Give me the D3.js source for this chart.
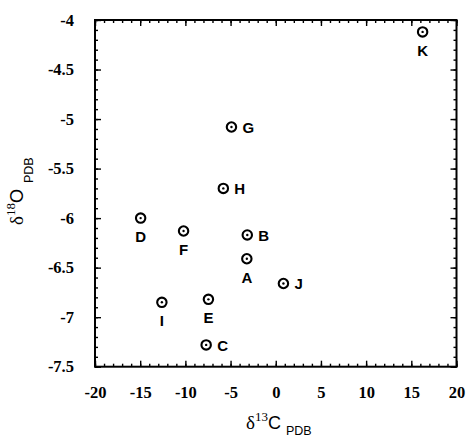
<!DOCTYPE html>
<html>
<head>
<meta charset="utf-8">
<script src="https://cdn.jsdelivr.net/npm/d3@7/dist/d3.min.js"></script>
<style>
body { margin: 0; background: #fff; }
svg { display: block; }
</style>
</head>
<body>
<svg id="chart" width="474" height="443"></svg>
<script>
// ---- data ----
const sampleNames = ["A", "B", "C", "D", "E", "F", "G", "H", "I", "J", "K"];
const d13C = [-3.2, -3.15, -7.7, -14.95, -7.45, -10.2, -4.9, -5.8, -12.6, 0.85, 16.25];
const d18O = [-6.41, -6.17, -7.28, -6.0, -6.82, -6.13, -5.08, -5.70, -6.85, -6.66, -4.12];
const labelSide = ["below", "right", "right", "below", "below", "below", "right", "right", "below", "right", "below"];
const xTicks = [-20, -15, -10, -5, 0, 5, 10, 15, 20];
const yTicks = [-7.5, -7, -6.5, -6, -5.5, -5, -4.5, -4];
const xMinor = d3.range(-20, 21, 1);
const yMinor = d3.range(-75, -39, 1).map(v => v / 10);

// ---- layout ----
const W = 474, H = 443;
const m = { left: 95, right: 17.5, top: 20, bottom: 76.3 };
const svg = d3.select("#chart");
const x = d3.scaleLinear().domain([-20, 20]).range([m.left, W - m.right]);
const y = d3.scaleLinear().domain([-7.5, -4]).range([H - m.bottom, m.top]);
const x0 = x.range()[0], x1 = x.range()[1], y0 = y.range()[0], y1 = y.range()[1];

const fmt = d => String(d);
const serif = "'Liberation Serif', 'Times New Roman', serif";
const sans = "'Liberation Sans', Arial, Helvetica, sans-serif";

function styleAxis(g, labels) {
  g.select(".domain").remove();
  g.selectAll(".tick line").attr("stroke", "#000").attr("stroke-width", 1.4);
  g.selectAll(".tick text")
    .attr("fill", "#000")
    .style("font-family", serif)
    .style("font-size", "16.5px")
    .style("font-weight", "bold");
  if (!labels) g.selectAll(".tick text").remove();
}

// bottom major + minor
svg.append("g").attr("transform", `translate(0,${y0})`)
  .call(d3.axisBottom(x).tickValues(xTicks).tickSize(-6).tickPadding(20).tickFormat(fmt))
  .call(g => styleAxis(g, true));
svg.append("g").attr("transform", `translate(0,${y0})`)
  .call(d3.axisBottom(x).tickValues(xMinor).tickSize(-3).tickFormat(""))
  .call(g => styleAxis(g, false));
// top
svg.append("g").attr("transform", `translate(0,${y1})`)
  .call(d3.axisTop(x).tickValues(xTicks).tickSize(-6).tickFormat(""))
  .call(g => styleAxis(g, false));
svg.append("g").attr("transform", `translate(0,${y1})`)
  .call(d3.axisTop(x).tickValues(xMinor).tickSize(-3).tickFormat(""))
  .call(g => styleAxis(g, false));
// left
svg.append("g").attr("transform", `translate(${x0},0)`)
  .call(d3.axisLeft(y).tickValues(yTicks).tickSize(-6).tickPadding(21).tickFormat(fmt))
  .call(g => styleAxis(g, true));
svg.append("g").attr("transform", `translate(${x0},0)`)
  .call(d3.axisLeft(y).tickValues(yMinor).tickSize(-3).tickFormat(""))
  .call(g => styleAxis(g, false));
// right
svg.append("g").attr("transform", `translate(${x1},0)`)
  .call(d3.axisRight(y).tickValues(yTicks).tickSize(-6).tickFormat(""))
  .call(g => styleAxis(g, false));
svg.append("g").attr("transform", `translate(${x1},0)`)
  .call(d3.axisRight(y).tickValues(yMinor).tickSize(-3).tickFormat(""))
  .call(g => styleAxis(g, false));

// frame
svg.append("rect")
  .attr("x", x0).attr("y", y1).attr("width", x1 - x0).attr("height", y0 - y1)
  .attr("fill", "none").attr("stroke", "#000").attr("stroke-width", 2);

// ---- points ----
const pts = sampleNames.map((n, i) => ({ n, cx: d13C[i], oy: d18O[i], side: labelSide[i] }));
const pg = svg.append("g").selectAll("g").data(pts).join("g")
  .attr("transform", d => `translate(${x(d.cx)},${y(d.oy)})`);
pg.append("circle").attr("r", 4.7).attr("fill", "#fff").attr("stroke", "#000").attr("stroke-width", 2.1);
pg.append("circle").attr("r", 1.2).attr("fill", "#000");
pg.append("text")
  .attr("x", d => d.side === "right" ? 11 : 0)
  .attr("y", d => d.side === "right" ? 6 : 24)
  .attr("text-anchor", d => d.side === "right" ? "start" : "middle")
  .style("font-family", sans)
  .style("font-size", "15px")
  .style("font-weight", "bold")
  .attr("fill", "#000")
  .text(d => d.n);

// ---- axis titles ----
const xt = svg.append("text").attr("x", 246).attr("y", 429).attr("fill", "#000");
xt.append("tspan").style("font-family", serif).style("font-size", "19px").text("δ");
xt.append("tspan").style("font-family", serif).style("font-size", "13px").attr("dy", -8).text("13");
xt.append("tspan").style("font-family", sans).style("font-size", "18px").attr("dy", 8).text("C");
xt.append("tspan").style("font-family", sans).style("font-size", "12.5px").attr("dx", 5).attr("dy", 6).text("PDB");

const yt = svg.append("text").attr("transform", "translate(23,225) rotate(-90)").attr("fill", "#000");
yt.append("tspan").style("font-family", serif).style("font-size", "19px").text("δ");
yt.append("tspan").style("font-family", serif).style("font-size", "13px").attr("dy", -8).text("18");
yt.append("tspan").style("font-family", sans).style("font-size", "18px").attr("dy", 8).text("O");
yt.append("tspan").style("font-family", sans).style("font-size", "12.5px").attr("dx", 6).attr("dy", 10).text("PDB");
</script>
</body>
</html>
